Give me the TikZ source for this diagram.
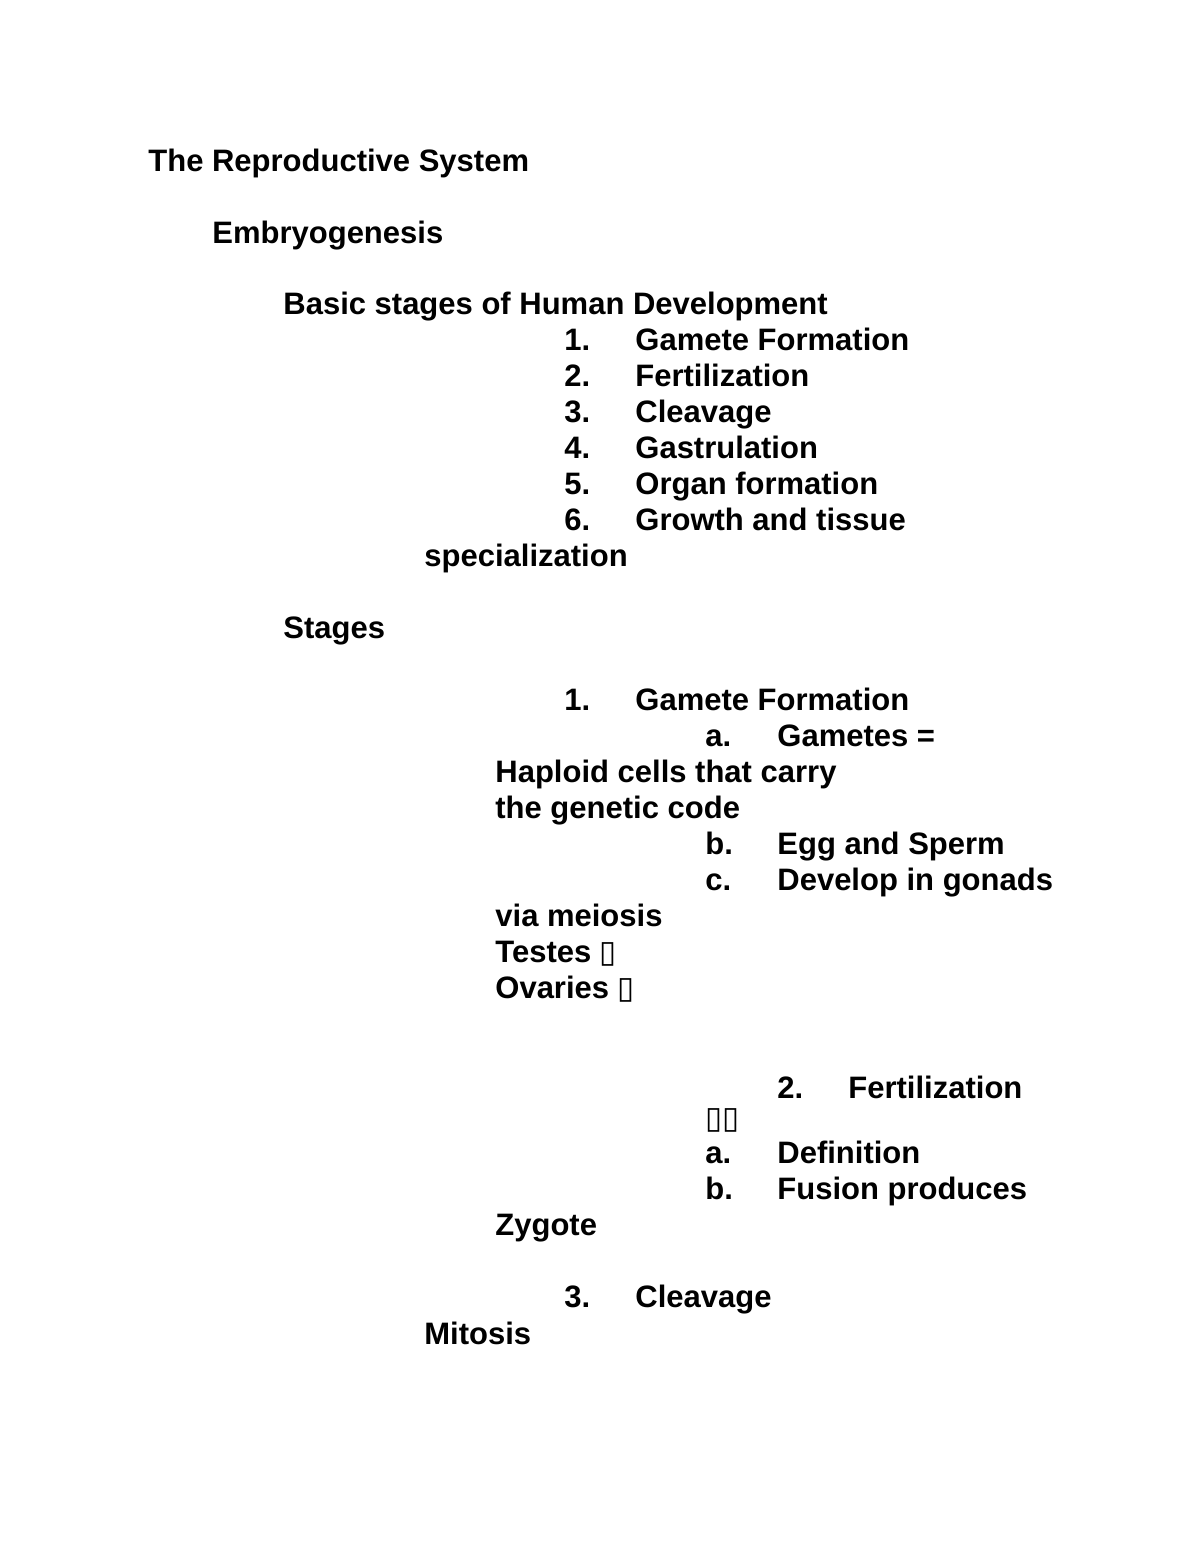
\documentclass[tikz,border=0pt]{standalone}
\usepackage{fontspec}
\setmainfont{Liberation Sans}
\newfontfamily\symf{DejaVu Sans}
\begin{document}
\begin{tikzpicture}[x=0.5pt,y=-0.5pt,t/.style={anchor=base west,inner sep=0pt,font=\bfseries\fontsize{15.5}{18}\selectfont}]
\useasboundingbox (0,0) rectangle (1200,1553);
\def\L#1#2#3#4{\node[t] (#1) at (#2,#3+11) {#4};}
\L{a}{148}{160}{The Reproductive System}
\L{b}{212}{232}{Embryogenesis}
\L{c}{283}{303}{Basic stages of Human Development}
\L{n1}{564}{339}{1.}\L{t1}{635}{339}{Gamete Formation}
\L{n2}{564}{375}{2.}\L{t2}{635}{375}{Fertilization}
\L{n3}{564}{411}{3.}\L{t3}{635}{411}{Cleavage}
\L{n4}{564}{447}{4.}\L{t4}{635}{447}{Gastrulation}
\L{n5}{564}{483}{5.}\L{t5}{635}{483}{Organ formation}
\L{n6}{564}{519}{6.}\L{t6}{635}{519}{Growth and tissue}
\L{d}{424}{555}{specialization}
\L{e}{283}{627}{Stages}
\L{m1}{564}{699}{1.}\L{u1}{635}{699}{Gamete Formation}
\L{la}{705}{735}{a.}\L{ua}{777}{735}{Gametes =}
\L{f}{495}{771}{Haploid cells that carry}
\L{g}{495}{807}{the genetic code}
\L{lb}{705}{843}{b.}\L{ub}{777}{843}{Egg and Sperm}
\L{lc}{705}{879}{c.}\L{uc}{777}{879}{Develop in gonads}
\L{h}{495}{915}{via meiosis}
\L{i}{495}{951}{Testes {\symf\mdseries ▯}}
\L{j}{495}{987}{Ovaries {\symf\mdseries ▯}}
\L{m2}{777}{1087}{2.}\L{u2}{848}{1087}{Fertilization}
\L{k}{705}{1117}{{\symf\mdseries ▯▯}}
\L{la2}{705}{1152}{a.}\L{ua2}{777}{1152}{Definition}
\L{lb2}{705}{1188}{b.}\L{ub2}{777}{1188}{Fusion produces}
\L{z}{495}{1224}{Zygote}
\L{m3}{564}{1296}{3.}\L{u3}{635}{1296}{Cleavage}
\L{mi}{424}{1333}{Mitosis}
\end{tikzpicture}
\end{document}
